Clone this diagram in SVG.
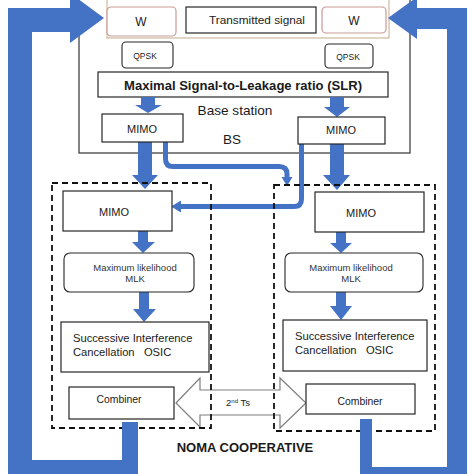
<svg xmlns="http://www.w3.org/2000/svg" width="474" height="474" viewBox="0 0 474 474">
<style>
text{font-family:"Liberation Sans",Arial,sans-serif;fill:#1a1a1a;text-anchor:middle}
text.st{text-anchor:start;font-size:11.2px}
.box{fill:#fff;stroke:#262626;stroke-width:1.2}
.rbox{fill:#fff;stroke:#262626;stroke-width:1.1}
.wbox{fill:#fff;stroke:#c99a94;stroke-width:1.2}
.dash{fill:none;stroke:#111;stroke-width:1.8;stroke-dasharray:6,4}
.blue{fill:#4472C4}
.thin{fill:none;stroke:#4472C4;stroke-width:5}
.sm{font-size:9.5px;fill:#333}
</style>
<rect width="474" height="474" fill="#fff"/>
<g id="bs">
<rect x="79" y="-5" width="331" height="158" fill="#fff" stroke="#333" stroke-width="1.2"/>
<text x="235" y="115" font-size="13.6">Base station</text>
<text x="232" y="144" font-size="13.5">BS</text>
</g>
<g id="tx-group">
<rect x="107" y="-5" width="282" height="43" fill="#fff" stroke="#d2bfa6" stroke-width="1.3"/>
</g>
<g id="w-left"><rect class="wbox" x="107" y="7" width="69" height="29" rx="4"/><text x="141" y="26" font-size="12">W</text></g>
<g id="tx-signal"><rect class="box" x="186" y="7" width="130" height="26"/><text x="257" y="24" font-size="11.8">Transmitted signal</text></g>
<g id="w-right"><rect class="wbox" x="322" y="7" width="64" height="26" rx="4"/><text x="354" y="25" font-size="12">W</text></g>
<g id="qpsk-left"><rect class="rbox" x="122" y="42" width="51" height="26" rx="4"/><text x="145" y="59" font-size="8.5">QPSK</text></g>
<g id="qpsk-right"><rect class="rbox" x="325" y="44" width="48" height="24" rx="4"/><text x="348" y="60" font-size="8.5">QPSK</text></g>
<g id="slr"><rect class="box" x="98" y="72" width="290" height="25"/><text x="243" y="90" font-size="12" font-weight="bold" textLength="238" lengthAdjust="spacingAndGlyphs">Maximal Signal-to-Leakage ratio (SLR)</text></g>
<g id="connectors">
<polygon class="blue" points="141,97 155,97 155,105 162,105 148,113 135,105 141,105"/>
<polygon class="blue" points="330,97 344,97 344,107 350,107 337,117 324,107 330,107"/>
<polygon class="blue" points="138,142 152,142 152,175 158,175 145,189 132,175 138,175"/>
<polygon class="blue" points="330,144 344,144 344,175 350,175 337,190 323,175 330,175"/>
<polygon class="blue" points="138,231 148,231 148,242 155,242 143,253 132,242 138,242"/>
<polygon class="blue" points="336,232 346,232 346,243 352,243 341,253 330,243 336,243"/>
<polygon class="blue" points="139,292 149,292 149,309 156,309 144,322 133,309 139,309"/>
<polygon class="blue" points="336,292 346,292 346,306 352,306 341,320 330,306 336,306"/>
<path class="thin" d="M165.5,142 V159 Q165.5,166.5 173,166.5 H279 Q287,166.5 287,174 V178"/>
<polygon class="blue" points="281.5,177 292.5,177 287,186"/>
<path class="thin" d="M301.5,144 V199 Q301.5,206.5 294,206.5 H180"/>
<polygon class="blue" points="181,200.5 181,212.5 171,206.5"/>
<polygon points="176,403 200,378 200,390 280,390 280,378 306,403 280,428 280,415 200,415 200,427" fill="#fff" stroke="#7f7f7f" stroke-width="1.2"/>
<text x="238" y="406" font-size="9.5">2<tspan font-size="6" dy="-3.5">nd</tspan><tspan dy="3.5"> Ts</tspan></text>
</g>
<g id="noma-left"><rect class="dash" x="52" y="183" width="159" height="245"/></g>
<g id="noma-right"><rect class="dash" x="274" y="185" width="161" height="246"/></g>
<g id="feedback">
<path class="blue" d="M138,422 V480 H8 V8 H70 V-7 L104,18 L70,43 V32 H32 V460 H122 V422 Z"/>
<path class="blue" d="M360,419 H372 V467 H447 V29 H417 V39 L388,18 L417,-3 V8 H467 V480 H360 Z"/>
</g>
<g id="mimo-bs-left"><rect class="box" x="102" y="114" width="81" height="28"/><text x="142" y="133" font-size="11">MIMO</text></g>
<g id="mimo-bs-right"><rect class="box" x="298" y="117" width="87" height="27"/><text x="341" y="134" font-size="11">MIMO</text></g>
<g id="mimo-left"><rect class="box" x="63" y="191" width="109" height="40"/><text x="114" y="216" font-size="11">MIMO</text></g>
<g id="mimo-right"><rect class="box" x="315" y="192" width="109" height="40"/><text x="361" y="217" font-size="11">MIMO</text></g>
<g id="mlk-left"><rect class="rbox" x="64" y="253" width="130" height="39" rx="6"/><text class="sm" x="135" y="271">Maximum likelihood</text><text class="sm" x="135" y="282">MLK</text></g>
<g id="mlk-right"><rect class="rbox" x="285" y="253" width="138" height="39" rx="6"/><text class="sm" x="351" y="271">Maximum likelihood</text><text class="sm" x="351" y="282">MLK</text></g>
<g id="sic-left"><rect class="box" x="61" y="322" width="148" height="50"/><text class="st" x="73" y="342">Successive Interference</text><text class="st" x="73" y="356" xml:space="preserve">Cancellation   OSIC</text></g>
<g id="sic-right"><rect class="box" x="283" y="320" width="144" height="51"/><text class="st" x="295" y="340">Successive Interference</text><text class="st" x="295" y="354" xml:space="preserve">Cancellation   OSIC</text></g>
<g id="comb-left"><rect class="box" x="69" y="387" width="105" height="32"/><text x="119" y="403" font-size="10.4">Combiner</text></g>
<g id="comb-right"><rect class="box" x="306" y="384" width="109" height="30"/><text x="360" y="405" font-size="10.4">Combiner</text></g>
<text x="245" y="452" font-size="13" font-weight="bold">NOMA COOPERATIVE</text>
</svg>
